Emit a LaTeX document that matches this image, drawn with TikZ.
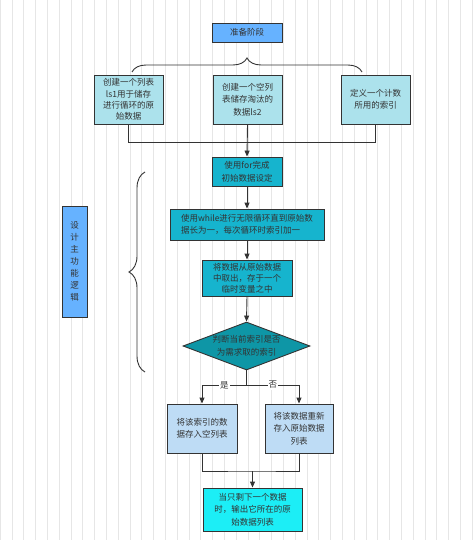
\documentclass[tikz,border=0pt]{standalone}
\usepackage{fontspec}
\newfontfamily\cjk{Noto Sans CJK SC}
\usepackage{xcolor}
\definecolor{fcblue}{RGB}{102,178,255}
\definecolor{fcpale}{RGB}{172,226,236}
\definecolor{fccyan}{RGB}{22,180,206}
\definecolor{fcteal}{RGB}{14,150,166}
\definecolor{fcsky}{RGB}{190,220,245}
\definecolor{fcaqua}{RGB}{28,238,246}
\definecolor{fcline}{RGB}{51,51,51}
\definecolor{fcgrid}{RGB}{230,230,230}
\usetikzlibrary{arrows.meta, positioning, shapes.geometric, decorations.pathreplacing}

\begin{document}
\begin{tikzpicture}[x=1pt, y=-1pt,
  box/.style={draw=fcline, line width=0.9pt, inner sep=0pt, align=center,
              font=\cjk\fontsize{8.5}{12.5}\selectfont, text=fcline},
  link/.style={draw=fcline, line width=0.9pt},
  arrow/.style={link, -{Triangle[length=6pt, width=5pt]}},
  bracket/.style={draw=fcline, line width=0.9pt, decorate},
  yesno/.style={fill=white, inner sep=1pt, font=\cjk\fontsize{8.5}{10}\selectfont, text=fcline}]

% --- Background and grid ---
\useasboundingbox (0,0) rectangle (474,540);
\fill[white] (0,0) rectangle (474,540);
\draw[fcgrid, line width=0.5pt, step=11.8] (0,0) grid (474,540);

% --- Preparation stage ---
\node[box, fill=fcblue, minimum width=70pt, minimum height=19pt] (start) at (247,32.5) {准备阶段};

\draw[bracket, decoration={brace, amplitude=14pt}] (132,72) -- (362,72);

\node[box, fill=fcpale, minimum width=69pt, minimum height=49pt,
      font=\cjk\fontsize{8.5}{11.3}\selectfont] (list1) at (128.5,99.5)
     {创建一个列表\\ls1用于储存\\进行循环的原\\始数据};
\node[box, fill=fcpale, minimum width=69pt, minimum height=49pt] (list2) at (247.5,99.5)
     {创建一个空列\\表储存淘汰的\\数据ls2};
\node[box, fill=fcpale, minimum width=69pt, minimum height=49pt] (index) at (375.5,99.5)
     {定义一个计数\\所用的索引};

\coordinate (merge) at (247.5,142);

% --- Main logic ---
\node[box, fill=fccyan, minimum width=70pt, minimum height=29pt] (init) at (247,171.5)
     {使用for完成\\初始数据设定};
\node[box, fill=fccyan, minimum width=154pt, minimum height=31pt, align=left] (loop) at (247,224.5)
     {使用while进行无限循环直到原始数\\据长为一，每次循环时索引加一};
\node[box, fill=fccyan, minimum width=90pt, minimum height=36pt,
      font=\cjk\fontsize{8.5}{11.2}\selectfont] (temp) at (247,278)
     {将数据从原始数据\\中取出，存于一个\\临时变量之中};
\node[box, fill=fcteal, diamond, aspect=2.65, inner sep=-1pt,
      minimum width=127pt, minimum height=48pt] (check) at (246.5,346)
     {判断当前索引是否\\为需求取的索引};

\draw[bracket, decoration={brace, amplitude=16pt}] (145,372) -- (145,172);
\node[box, fill=fcblue, minimum width=25pt, minimum height=111pt, font=\cjk\fontsize{8.5}{12}\selectfont]
     (logic) at (74.5,261.5) {设\\计\\主\\功\\能\\逻\\辑};

% --- Branches ---
\coordinate (split) at (246.5,385);
\node[box, fill=fcsky, minimum width=70pt, minimum height=49pt] (keep) at (202,428.5)
     {将该索引的数\\据存入空列表};
\node[box, fill=fcsky, minimum width=68pt, minimum height=49pt] (back) at (299,428.5)
     {将该数据重新\\存入原始数据\\列表};

\coordinate (join) at (252.5,471);
\node[box, fill=fcaqua, minimum width=99pt, minimum height=43pt] (result) at (252.5,509.5)
     {当只剩下一个数据\\时，输出它所在的原\\始数据列表};

% --- Connectors ---
\draw[link] (list1.south) |- (index.south |- merge) -- (index.south);
\draw[arrow] (list2.south) -- (init.north);
\draw[arrow] (init.south) -- (loop.north);
\draw[arrow] (loop.south) -- (temp.north);
\draw[arrow] (temp.south) -- (check.north);
\draw[link] (check.south) -- (split);
\draw[arrow] (split) -| node[yesno, pos=0.25] {是} (keep.north);
\draw[arrow] (split) -| node[yesno, pos=0.25] {否} (back.north);
\draw[link] (keep.south) |- (join) -| (back.south);
\draw[arrow] (join) -- (result.north);

\end{tikzpicture}
\end{document}
